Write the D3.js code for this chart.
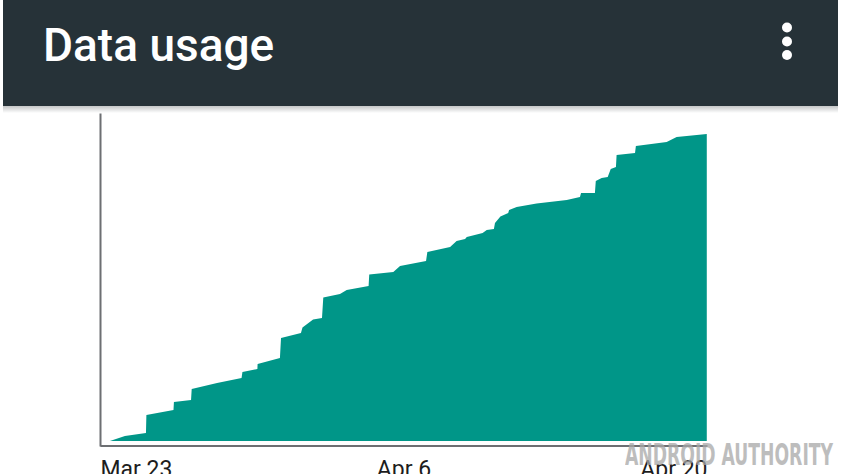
<!DOCTYPE html>
<html>
<head>
<meta charset="utf-8">
<script src="https://cdn.jsdelivr.net/npm/d3@7"></script>
<style>
  body { margin: 0; background: #fff; }
  svg { display: block; font-family: Roboto, "Noto Sans", sans-serif; }
</style>
</head>
<body>
<div id="chart"></div>
<script>
// cumulative data usage
const days = [0.46, 1.15, 2.12, 2.14, 3.39, 3.41, 4.20, 4.23, 5.40, 6.53, 6.57, 7.26, 7.27, 8.30, 8.35,
  9.27, 9.34, 9.83, 10.24, 10.30, 11.07, 11.38, 12.39, 12.42, 13.53, 13.84, 15.04, 15.10, 16.15, 16.45,
  16.84, 16.92, 17.65, 17.84, 18.17, 18.22, 18.47, 18.83, 18.87, 19.22, 20.14, 21.53, 22.14, 22.19,
  22.83, 22.87, 23.14, 23.42, 23.56, 23.80, 23.83, 24.68, 24.72, 26.14, 26.60, 27.99];
const usageGB = [0.00, 0.05, 0.08, 0.26, 0.31, 0.39, 0.41, 0.52, 0.58, 0.63, 0.69, 0.72, 0.77, 0.83, 1.03,
  1.08, 1.135, 1.215, 1.23, 1.435, 1.47, 1.51, 1.55, 1.665, 1.69, 1.75, 1.80, 1.89, 1.94, 2.00,
  2.02, 2.04, 2.08, 2.11, 2.12, 2.18, 2.245, 2.28, 2.31, 2.34, 2.375, 2.41, 2.44, 2.48,
  2.48, 2.60, 2.63, 2.64, 2.72, 2.74, 2.86, 2.88, 2.95, 2.99, 3.04, 3.07];
const tickDays = [0, 14, 28];
const tickLabels = ["Mar 23", "Apr 6", "Apr 20"];

const W = 842, H = 474;
const svg = d3.select("#chart").append("svg")
  .attr("width", W)
  .attr("height", H);

// app bar
const defs = svg.append("defs");
const grad = defs.append("linearGradient")
  .attr("id", "shadow")
  .attr("x1", 0).attr("y1", 0).attr("x2", 0).attr("y2", 1);
grad.append("stop").attr("offset", "0%").attr("stop-color", "#c4c6c7");
grad.append("stop").attr("offset", "100%").attr("stop-color", "#ffffff");

svg.append("rect")
  .attr("x", 3).attr("y", 106)
  .attr("width", 835).attr("height", 7)
  .attr("fill", "url(#shadow)");

svg.append("rect")
  .attr("x", 3).attr("y", 0)
  .attr("width", 835).attr("height", 106)
  .attr("fill", "#263238");

svg.append("text")
  .attr("x", 43)
  .attr("y", 61)
  .attr("font-size", 46)
  .attr("font-weight", 500)
  .attr("fill", "#fff")
  .text("Data usage");

svg.selectAll("circle.menu")
  .data([27.5, 41.5, 55])
  .join("circle")
  .attr("class", "menu")
  .attr("cx", 787)
  .attr("cy", d => d)
  .attr("r", 5)
  .attr("fill", "#fff");

// scales
const x = d3.scaleLinear().domain([0, 28]).range([100, 707]);
const y = d3.scaleLinear().domain([0, 3.28]).range([441, 113]);

const data = days.map((d, i) => ({ day: d, gb: usageGB[i] }));

const area = d3.area()
  .x(d => x(d.day))
  .y0(y(0))
  .y1(d => y(d.gb));

svg.append("path")
  .datum(data)
  .attr("d", area)
  .attr("fill", "#009688");

// axes
const yAxis = svg.append("g")
  .attr("transform", "translate(100,0)")
  .call(d3.axisLeft(y.copy().range([446, 113])).tickValues([]).tickSizeOuter(0));
yAxis.select(".domain").attr("stroke", "#6d6f72").attr("stroke-width", 2);

const xAxis = svg.append("g")
  .attr("transform", "translate(0,445.5)")
  .call(d3.axisBottom(x)
    .tickValues(tickDays)
    .tickSize(0)
    .tickPadding(8)
    .tickFormat((d, i) => tickLabels[i]));
xAxis.select(".domain").attr("stroke", "#6d6f72").attr("stroke-width", 2);
xAxis.selectAll("text")
  .attr("font-family", "Roboto, sans-serif")
  .attr("font-size", 23)
  .attr("fill", "#1d1d1d")
  .attr("dy", null)
  .attr("y", 31)
  .attr("text-anchor", (d, i) => i === 0 ? "start" : i === tickDays.length - 1 ? "end" : "middle");

// watermark
svg.append("text")
  .attr("x", 625)
  .attr("y", 465)
  .attr("font-family", "'Liberation Sans Narrow', 'DejaVu Sans Condensed', sans-serif")
  .attr("font-weight", "bold")
  .attr("font-size", 31)
  .attr("textLength", 208)
  .attr("lengthAdjust", "spacingAndGlyphs")
  .attr("fill", "#a8a8a8")
  .attr("opacity", 0.75)
  .text("ANDROID AUTHORITY");
</script>
</body>
</html>
